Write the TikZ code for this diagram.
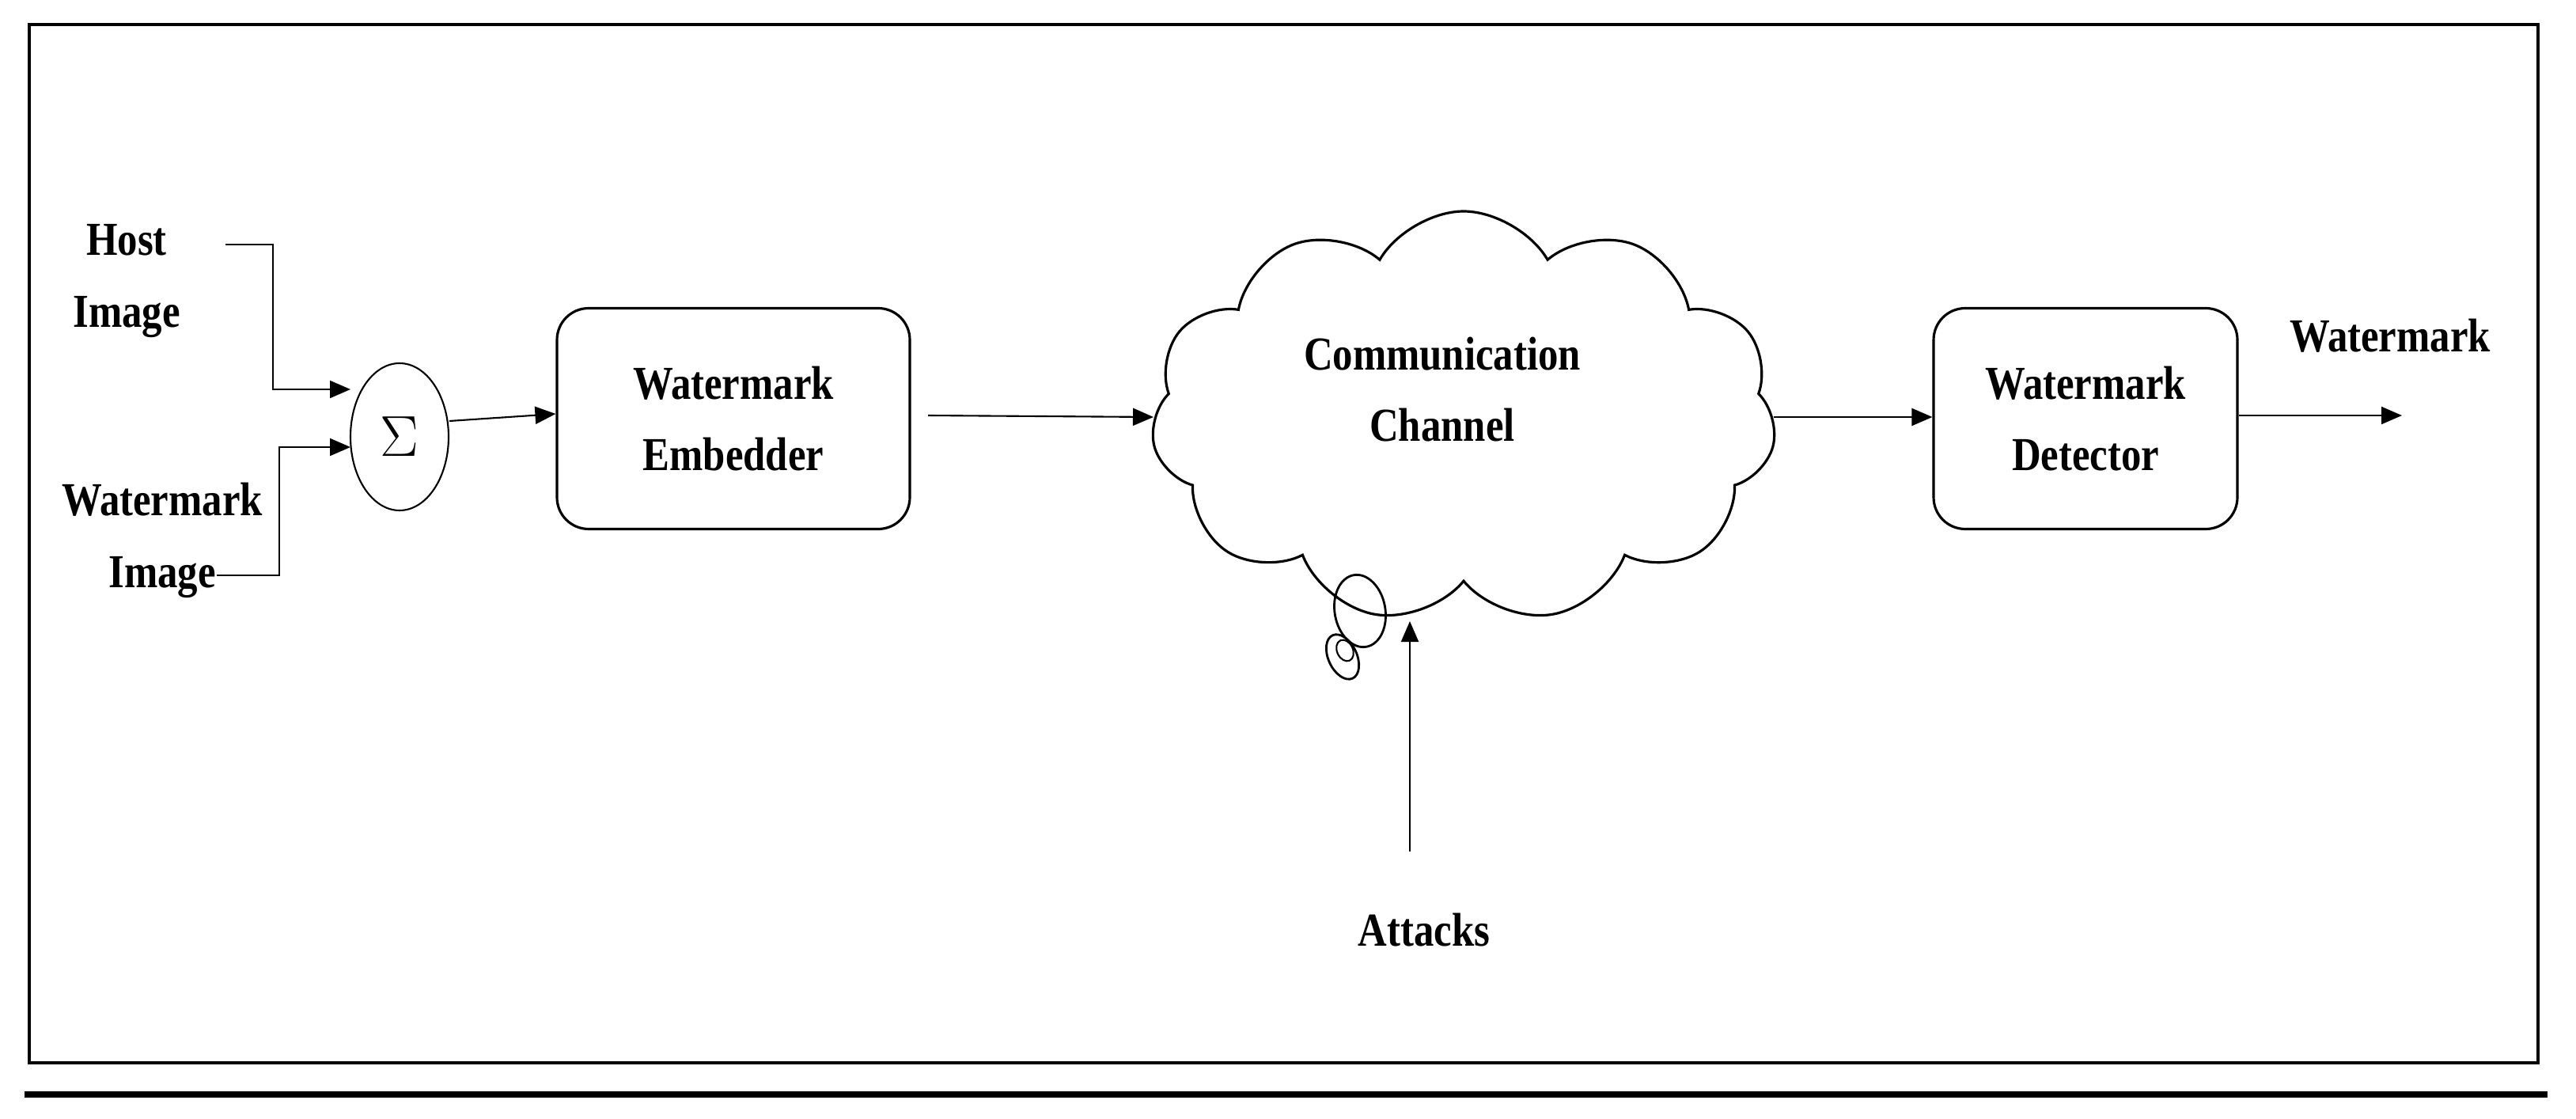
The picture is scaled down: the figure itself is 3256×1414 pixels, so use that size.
\documentclass[tikz,border=0pt]{standalone}
\usepackage{fontspec}
\setmainfont{Liberation Serif}[FakeStretch=0.85]
\usetikzlibrary{shapes.symbols,shapes.geometric,arrows.meta}
\begin{document}
\begin{tikzpicture}[x=0.1mm,y=-0.1mm,
  lbl/.style={font=\fontsize{17}{20}\selectfont\bfseries,align=center,inner sep=0pt},
  box/.style={draw,line width=0.9pt,rounded corners=4mm,minimum width=44.6mm,minimum height=27.9mm},
  arr/.style={-{Triangle[length=2.6mm,width=2.2mm]},line width=0.6pt}]
\useasboundingbox (0,0) rectangle (3256,1414);
\draw[line width=1.2pt] (37,31) rectangle (3208,1343);
\draw[line width=2.4pt] (31,1383) -- (3220,1383);
\node[lbl] (host) at (160,355) {Host\\[2mm]Image};
\node[lbl] (wmi) at (205,683) {Watermark\\[2mm]Image};
\node[draw,ellipse,line width=0.6pt,minimum width=12.4mm,minimum height=18.6mm,inner sep=0pt] (sum) at (505,552) {\fontsize{20}{20}\selectfont$\Sigma$};
\node[box,lbl] (emb) at (927,529) {Watermark\\[2mm]Embedder};
\node[cloud,draw,line width=0.9pt,cloud puffs=11,cloud puff arc=120,aspect=1.5,minimum width=79mm,minimum height=52mm,inner sep=0pt] (cl) at (1850,527) {};
\node[lbl] (cltext) at (1823,492) {Communication\\[2mm]Channel};
\node[box,lbl,minimum width=38.4mm] (det) at (2636,529) {Watermark\\[2mm]Detector};
\node[lbl,anchor=base] (wmo) at (3021,445) {Watermark};
\node[lbl,anchor=base] (att) at (1800,1195) {Attacks};
\coordinate (h0) at (285,309);
\coordinate (w0) at (274,727);
\coordinate (ain) at (1782,1076);
\coordinate (aout) at (1782,785);
\coordinate (oe) at (3036,525);
\draw[arr] (h0) -- (345,309) -- (345,492) -- (443,492);
\draw[arr] (w0) -- (353,727) -- (353,565) -- (443,565);
\draw[arr] ([yshift=2mm]sum.east) -- ([yshift=0.6mm]emb.west);
\draw[arr] (1173,525) -- (cl.west);
\draw[arr] (cl.east) -- (cl.east -| det.west);
\draw[arr] (det.east |- oe) -- (oe);
\draw[arr] (ain) -- (aout);
\draw[line width=0.8pt,rotate around={10:(1719,772)}] (1719,772) ellipse (32 and 46);
\draw[line width=0.8pt,rotate around={25:(1697,830)}] (1697,830) ellipse (18 and 30);
\draw[line width=0.6pt,rotate around={25:(1700,822)}] (1700,822) ellipse (10 and 14);
\end{tikzpicture}
\end{document}
